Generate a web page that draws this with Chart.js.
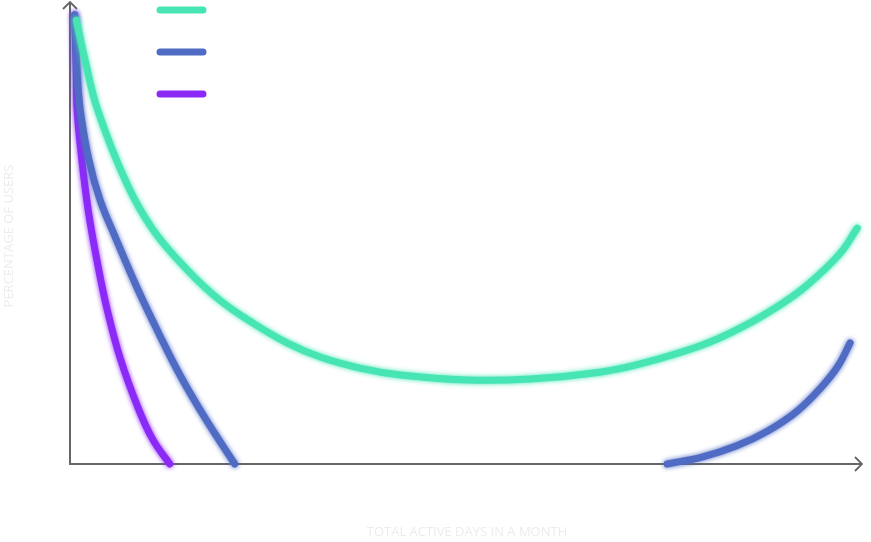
<!DOCTYPE html>
<html>
<head>
<meta charset="utf-8">
<script src="https://cdn.jsdelivr.net/npm/chart.js@4"></script>
<style>
  body { margin: 0; background: #fff; }
  #wrap { width: 871px; height: 542px; }
</style>
</head>
<body>
<div id="wrap"><canvas id="myChart"></canvas></div>
<script>
// Retention curves: share of users vs total active days in a month

const seriesNames = ["Series A", "Series B", "Series C"]
const seriesColors = ["#47e4b4", "#4f6bc3", "#8b2af7"]

const greenX = [0.8, 1.9, 3.5, 7.2, 10.5, 14.8, 18.9, 23.1, 27.4, 31.6, 36.6, 41.7, 50.1, 58.1, 66.9, 72.0, 79.5, 84.6, 89.6, 93.1, 97.2, 99.4]
const greenY = [96.7, 88.0, 77.1, 61.0, 51.0, 42.3, 35.7, 30.7, 26.4, 23.3, 20.9, 19.4, 18.3, 18.5, 20.0, 21.8, 25.7, 29.6, 34.6, 39.0, 45.8, 51.4]

// blue drops to zero, then comes back at the end of the month
const blueX = [0.6, 0.9, 1.3, 2.4, 3.8, 5.7, 8.6, 11.2, 14.0, 17.2, 20.8, 50, 75.4, 79.8, 84.1, 88.1, 91.8, 94.8, 97.0, 98.5]
const blueY = [97.8, 85.4, 77.1, 66.2, 57.5, 49.5, 37.9, 28.5, 19.0, 9.6, 0, null, 0, 1.5, 3.9, 7.2, 11.5, 16.6, 21.4, 26.4]

const purpleX = [0.6, 0.8, 0.9, 1.5, 2.3, 3.4, 4.7, 6.4, 8.7, 10.5, 12.6]
const purpleY = [97.8, 85.4, 77.1, 66.2, 55.3, 44.4, 33.6, 22.7, 11.8, 5.2, 0]

const xTitle = "TOTAL ACTIVE DAYS IN A MONTH"
const yTitle = "PERCENTAGE OF USERS"

const pts = (xs, ys) => xs.map((x, i) => ({x: x, y: ys[i]}))

const ctx = document.querySelector("#myChart")

const makeSet = (i, xs, ys) => ({
  label: seriesNames[i],
  data: pts(xs, ys),
  borderColor: seriesColors[i],
  borderWidth: 7,
  borderCapStyle: 'round',
  borderJoinStyle: 'round',
  pointRadius: 0,
  tension: 0.4,
  spanGaps: false,
  fill: false,
  clip: false
})

const data = {
  datasets: [
    makeSet(0, greenX, greenY),
    makeSet(1, blueX, blueY),
    makeSet(2, purpleX, purpleY)
  ]
}

// soft glow under every line
const glow = {
  id: 'glow',
  beforeDatasetDraw(chart, args) {
    const c = chart.ctx
    c.save()
    c.shadowColor = seriesColors[args.index]
    c.shadowBlur = 5
  },
  afterDatasetDraw(chart) {
    chart.ctx.restore()
  }
}

// axes with arrow heads, faint titles and bare legend swatches
const decor = {
  id: 'decor',
  beforeDatasetsDraw(chart) {
    const c = chart.ctx
    const a = chart.chartArea
    c.save()
    c.strokeStyle = '#666'
    c.lineWidth = 2
    c.beginPath()
    c.moveTo(a.left, 2)
    c.lineTo(a.left, a.bottom)
    c.lineTo(a.right, a.bottom)
    c.stroke()
    c.lineWidth = 1.8
    c.beginPath()
    c.moveTo(a.left - 7, 9)
    c.lineTo(a.left, 2)
    c.lineTo(a.left + 7, 9)
    c.moveTo(a.right - 7, a.bottom - 7)
    c.lineTo(a.right, a.bottom)
    c.lineTo(a.right - 7, a.bottom + 7)
    c.stroke()

    c.fillStyle = '#ececec'
    c.font = '13px "Open Sans"'
    c.textAlign = 'center'
    c.textBaseline = 'middle'
    c.fillText(xTitle, 467, 532)
    c.translate(9, 236)
    c.rotate(-Math.PI / 2)
    c.fillText(yTitle, 0, 0)
    c.restore()

    c.save()
    c.lineWidth = 7
    c.lineCap = 'round'
    seriesColors.forEach((col, i) => {
      c.strokeStyle = col
      c.beginPath()
      c.moveTo(160, 10 + i * 42)
      c.lineTo(203, 10 + i * 42)
      c.stroke()
    })
    c.restore()
  }
}

const options = {
  responsive: true,
  maintainAspectRatio: false,
  animation: false,
  layout: {
    padding: {left: 70, right: 9, top: 5, bottom: 78}
  },
  plugins: {
    legend: {display: false},
    tooltip: {enabled: false}
  },
  scales: {
    x: {type: 'linear', min: 0, max: 100, display: false},
    y: {min: 0, max: 100, display: false}
  }
}

const config = {
  type: 'line',
  data: data,
  options: options,
  plugins: [decor, glow]
}

const chart = new Chart(ctx, config)
</script>
</body>
</html>
